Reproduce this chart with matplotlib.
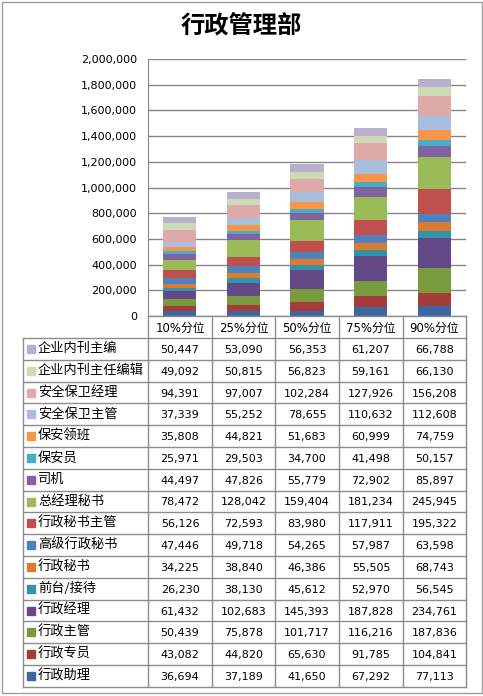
# -*- coding: utf-8 -*-
import matplotlib
matplotlib.use('Agg')
import matplotlib.pyplot as plt
import numpy as np

plt.rcParams['font.family'] = ['DejaVu Sans', 'Noto Sans CJK SC']

# ----------------------------------------
# Data (series listed bottom -> top of the stack)
# ----------------------------------------
categories = ['10%分位', '25%分位', '50%分位', '75%分位', '90%分位']

series_names = ['行政助理', '行政专员', '行政主管', '行政经理', '前台/接待', '行政秘书',
                '高级行政秘书', '行政秘书主管', '总经理秘书', '司机', '保安员', '保安领班',
                '安全保卫主管', '安全保卫经理', '企业内刊主任编辑', '企业内刊主编']

admin_assistant = [36694, 37189, 41650, 67292, 77113]
admin_specialist = [43082, 44820, 65630, 91785, 104841]
admin_supervisor = [50439, 75878, 101717, 116216, 187836]
admin_manager = [61432, 102683, 145393, 187828, 234761]
reception = [26230, 38130, 45612, 52970, 56545]
admin_secretary = [34225, 38840, 46386, 55505, 68743]
senior_secretary = [47446, 49718, 54265, 57987, 63598]
secretary_supervisor = [56126, 72593, 83980, 117911, 195322]
gm_secretary = [78472, 128042, 159404, 181234, 245945]
driver = [44497, 47826, 55779, 72902, 85897]
guard = [25971, 29503, 34700, 41498, 50157]
guard_leader = [35808, 44821, 51683, 60999, 74759]
security_supervisor = [37339, 55252, 78655, 110632, 112608]
security_manager = [94391, 97007, 102284, 127926, 156208]
deputy_editor = [49092, 50815, 56823, 59161, 66130]
chief_editor = [50447, 53090, 56353, 61207, 66788]

values = [admin_assistant, admin_specialist, admin_supervisor, admin_manager, reception,
          admin_secretary, senior_secretary, secretary_supervisor, gm_secretary, driver,
          guard, guard_leader, security_supervisor, security_manager, deputy_editor, chief_editor]

colors = ['#3C67A2', '#A63C3A', '#7A9A3E', '#634A87', '#3593A9', '#D77C31',
          '#4F81BD', '#C0504D', '#9BBB59', '#8064A2', '#4BACC6', '#F79646',
          '#A9BDDD', '#DDAAA9', '#CEDAB6', '#B9B1CC']

W, H = 483, 696
fig = plt.figure(figsize=(W / 100, H / 100), dpi=100)

def fx(px):
    return px / W

def fy(py):
    return 1 - py / H

# ----------------------------------------
# Stacked bar chart
# ----------------------------------------
left, right, top, bottom = 148, 466, 59, 316
ax = fig.add_axes([fx(left), fy(bottom), fx(right - left), (bottom - top) / H])

x = np.arange(len(categories))
base = np.zeros(len(categories))
for name, vals, c in zip(series_names, values, colors):
    ax.bar(x, vals, width=0.52, bottom=base, color=c, zorder=3)
    base += np.array(vals)

ax.set_xlim(-0.5, len(categories) - 0.5)
ax.set_ylim(0, 2000000)
ax.set_yticks(np.arange(0, 2000001, 200000))
ax.set_yticklabels([f'{v:,}' for v in range(0, 2000001, 200000)], fontsize=8)
ax.tick_params(axis='y', length=0, pad=8)
ax.set_xticks([])
ax.grid(axis='y', color='#868686', linewidth=1, zorder=0)
for s in ['top', 'right', 'bottom']:
    ax.spines[s].set_visible(False)
ax.spines['left'].set_color('#868686')

fig.text(0.5, fy(27), '行政管理部', ha='center', va='center', fontsize=17.5,
         fontweight='bold', family=['Noto Sans CJK SC'])

# ----------------------------------------
# Data table under the chart
# ----------------------------------------
tab = fig.add_axes([0, 0, 1, 1])
tab.set_xlim(0, W)
tab.set_ylim(H, 0)
tab.axis('off')

line_c = '#8C8C8C'
col_x = [23, 148, 212, 275, 339, 403, 466]
row0, row_h = 338, 21.8
n_rows = len(series_names)
row_y = [row0 + i * row_h for i in range(n_rows + 1)]

# header row
for cx in col_x[1:]:
    tab.plot([cx, cx], [bottom, row_y[-1]], color=line_c, lw=1)
tab.plot([col_x[1], col_x[-1]], [bottom, bottom], color=line_c, lw=1)
for i, cat in enumerate(categories):
    tab.text((col_x[i + 1] + col_x[i + 2]) / 2, (bottom + row0) / 2 + 1, cat,
             ha='center', va='center', fontsize=8.5)

tab.plot([col_x[0], col_x[0]], [row0, row_y[-1]], color=line_c, lw=1)
for ry in row_y:
    tab.plot([col_x[0], col_x[-1]], [ry, ry], color=line_c, lw=1)

# body rows, top row = top of the stack
for r, idx in enumerate(range(n_rows - 1, -1, -1)):
    yc = (row_y[r] + row_y[r + 1]) / 2
    tab.add_patch(plt.Rectangle((27, yc - 4), 8, 8, color=colors[idx]))
    tab.text(38, yc, series_names[idx], ha='left', va='center', fontsize=9.5,
             family=['Noto Sans CJK SC'])
    for c, v in enumerate(values[idx]):
        tab.text((col_x[c + 1] + col_x[c + 2]) / 2, yc + 1, f'{v:,}',
                 ha='center', va='center', fontsize=8)

# outer frame
tab.add_patch(plt.Rectangle((1.5, 1.5), W - 3, 691, fill=False, edgecolor='#A0A0A0', lw=1))

fig.savefig('out.png', dpi=100)
